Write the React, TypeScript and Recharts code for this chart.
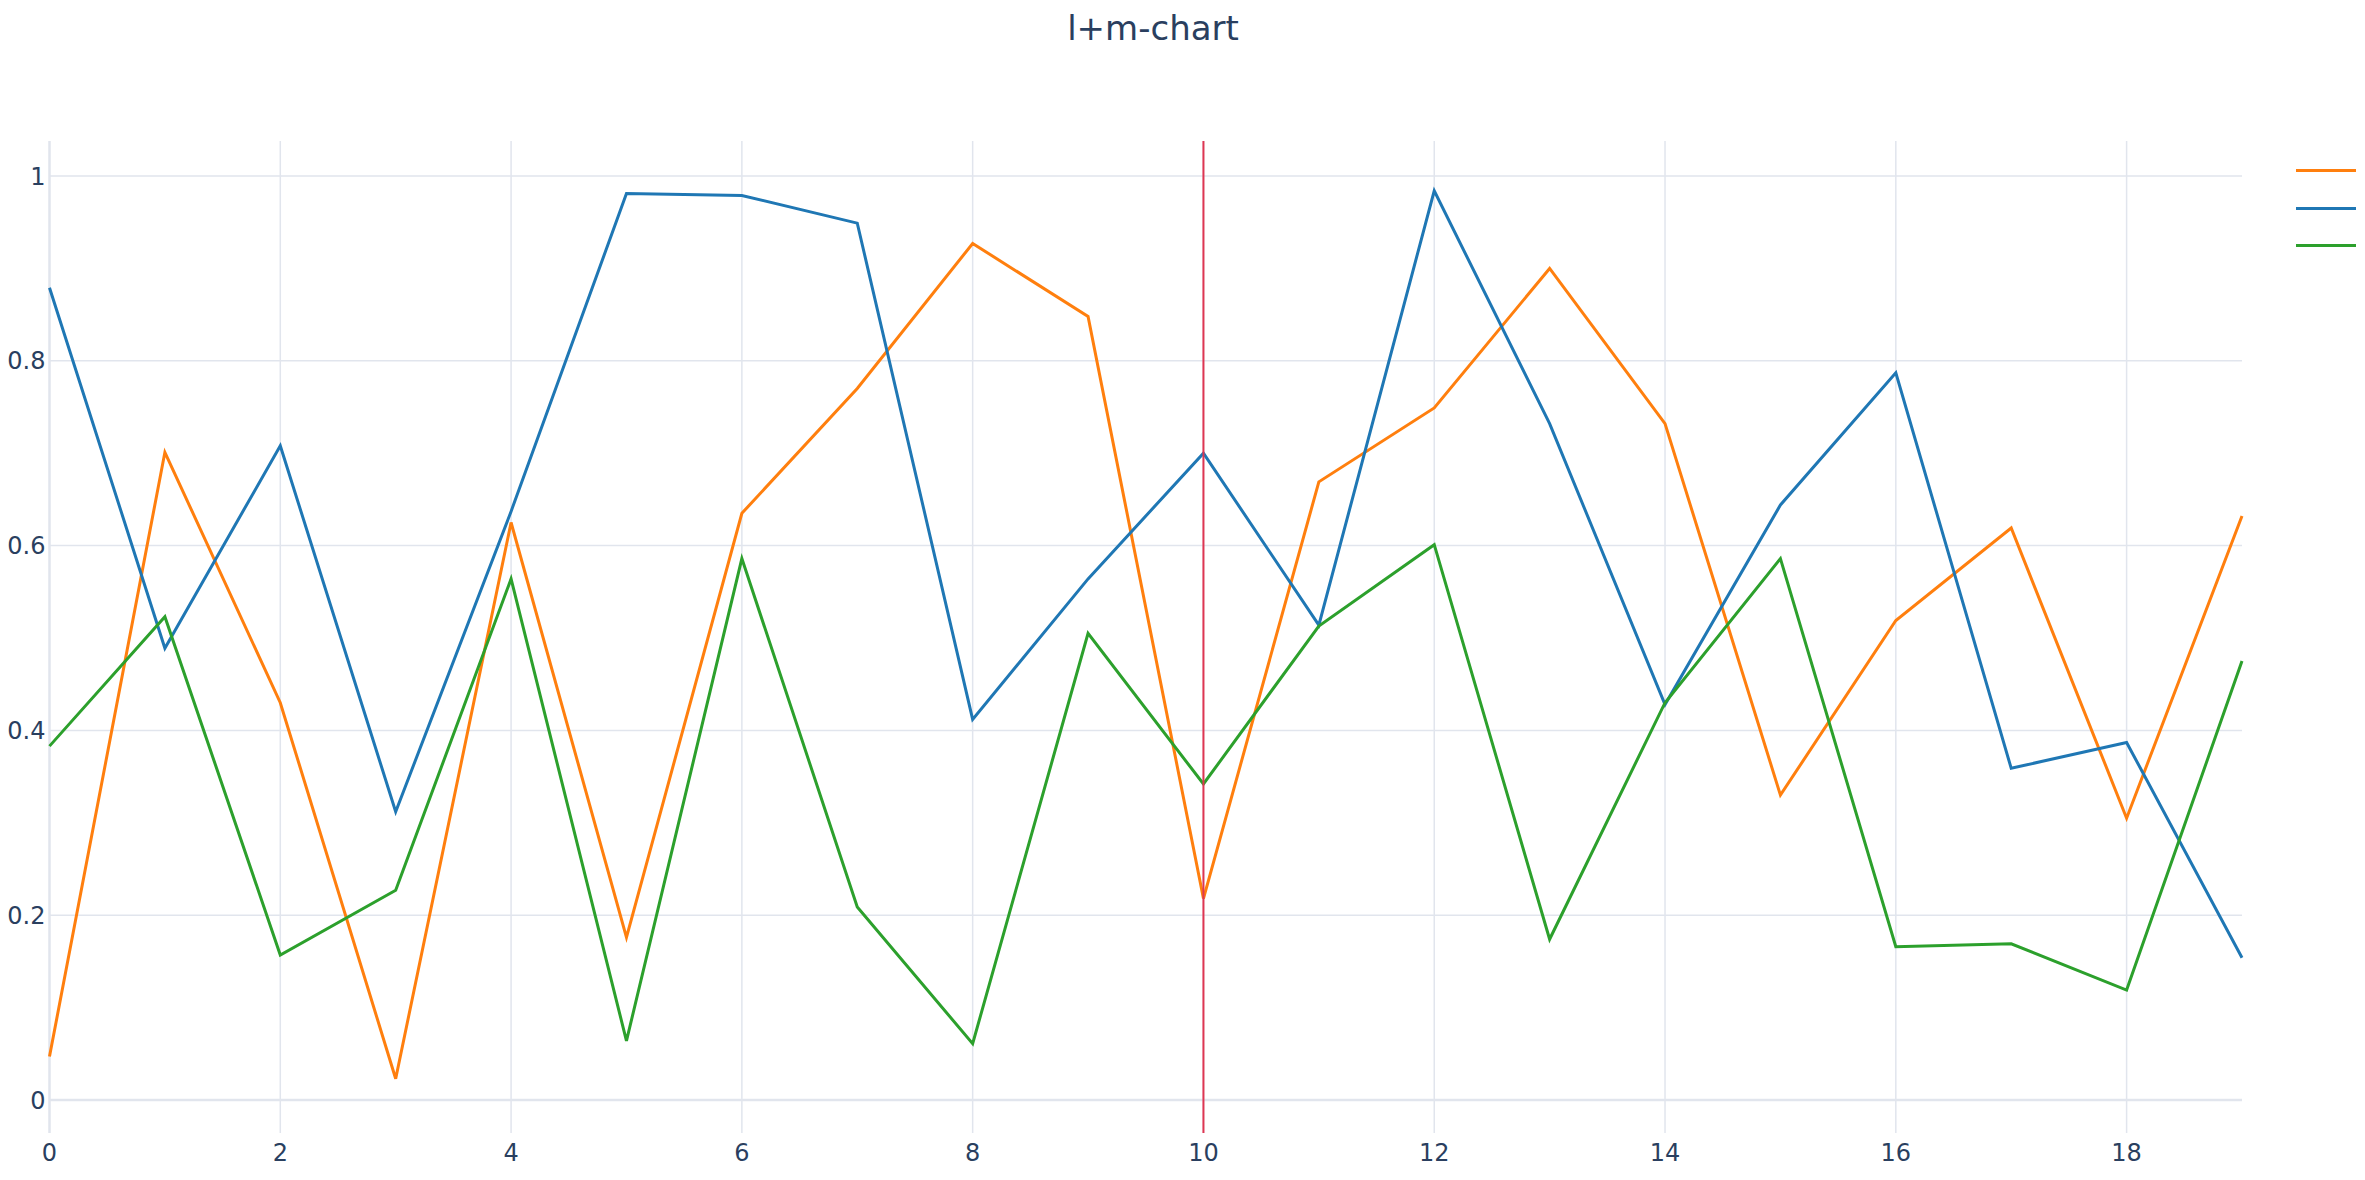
import React from "react";
import {
  LineChart,
  Line,
  XAxis,
  YAxis,
  ReferenceLine,
  Legend,
} from "recharts";

const categories = [0, 1, 2, 3, 4, 5, 6, 7, 8, 9, 10, 11, 12, 13, 14, 15, 16, 17, 18, 19];

const seriesOrange = [
  0.047, 0.701, 0.43, 0.023, 0.625, 0.176, 0.635, 0.77, 0.927, 0.848,
  0.218, 0.669, 0.749, 0.9, 0.732, 0.33, 0.519, 0.619, 0.305, 0.632,
];
const seriesBlue = [
  0.879, 0.489, 0.708, 0.312, 0.637, 0.981, 0.979, 0.949, 0.412, 0.564,
  0.7, 0.514, 0.984, 0.732, 0.428, 0.644, 0.787, 0.359, 0.387, 0.154,
];
const seriesGreen = [
  0.383, 0.523, 0.157, 0.227, 0.564, 0.064, 0.586, 0.209, 0.061, 0.505,
  0.342, 0.513, 0.601, 0.174, 0.43, 0.586, 0.166, 0.169, 0.119, 0.475,
];

const xTicks = [0, 2, 4, 6, 8, 10, 12, 14, 16, 18];
const yTicks = [0, 0.2, 0.4, 0.6, 0.8, 1];
const markerX = 10;
const titleText = "l+m-chart";

const seriesDefs = [
  { key: "a", color: "#ff7f0e", values: seriesOrange },
  { key: "b", color: "#1f77b4", values: seriesBlue },
  { key: "c", color: "#2ca02c", values: seriesGreen },
];

const data = categories.map((x, i) => ({
  x,
  a: seriesOrange[i],
  b: seriesBlue[i],
  c: seriesGreen[i],
}));

const FONT = "'DejaVu Sans', Verdana, sans-serif";
const TEXT = "#2a3f5f";
const GRID = "#e1e5ed";

const LegendContent = () => (
  <div style={{ position: "relative", width: 70, height: 100 }}>
    {seriesDefs.map((s, i) => (
      <div
        key={s.key}
        style={{
          position: "absolute",
          left: 0,
          top: i * 37.5,
          width: 60,
          height: 3,
          background: s.color,
        }}
      />
    ))}
  </div>
);

export default function App() {
  return (
    <div
      style={{
        position: "absolute",
        left: 0,
        top: 0,
        width: 2365,
        height: 1180,
        background: "#ffffff",
        fontFamily: FONT,
      }}
    >
      <div
        style={{
          position: "absolute",
          left: 0,
          top: 11,
          width: 2306,
          textAlign: "center",
          fontSize: 34,
          lineHeight: "34px",
          color: TEXT,
          fontFamily: FONT,
        }}
      >
        {titleText}
      </div>
      <LineChart
        width={2365}
        height={1180}
        data={data}
        margin={{ top: 141, right: 123, bottom: 0, left: 0 }}
        style={{ fontFamily: FONT }}
      >
        <XAxis
          dataKey="x"
          type="number"
          domain={[0, 19]}
          ticks={xTicks}
          axisLine={false}
          tickLine={false}
          tickSize={0}
          tickMargin={11}
          height={47}
          interval={0}
          tick={{ fill: TEXT, fontSize: 24, fontFamily: FONT }}
        />
        <YAxis
          type="number"
          domain={[-0.0357, 1.0379]}
          ticks={yTicks}
          axisLine={false}
          tickLine={false}
          tickSize={0}
          tickMargin={4}
          width={49.5}
          interval={0}
          allowDataOverflow
          tick={{ fill: TEXT, fontSize: 24, fontFamily: FONT }}
        />
        {yTicks
          .filter((t) => t !== 0)
          .map((t) => (
            <ReferenceLine key={"gy" + t} y={t} stroke={GRID} strokeWidth={1.5} />
          ))}
        {xTicks
          .filter((t) => t !== 0)
          .map((t) => (
            <ReferenceLine key={"gx" + t} x={t} stroke={GRID} strokeWidth={1.5} />
          ))}
        <ReferenceLine x={0} stroke={GRID} strokeWidth={2.5} />
        <ReferenceLine y={0} stroke={GRID} strokeWidth={2.5} />
        {seriesDefs.map((s) => (
          <Line
            key={s.key}
            type="linear"
            dataKey={s.key}
            name=" "
            stroke={s.color}
            strokeWidth={3}
            dot={false}
            activeDot={false}
            isAnimationActive={false}
          />
        ))}
        <ReferenceLine x={markerX} stroke="#de3652" strokeWidth={2} />
        <Legend
          layout="vertical"
          align="center"
          verticalAlign="middle"
          content={<LegendContent />}
          wrapperStyle={{ left: 2296, top: 169, width: 70, height: 100 }}
        />
      </LineChart>
    </div>
  );
}
